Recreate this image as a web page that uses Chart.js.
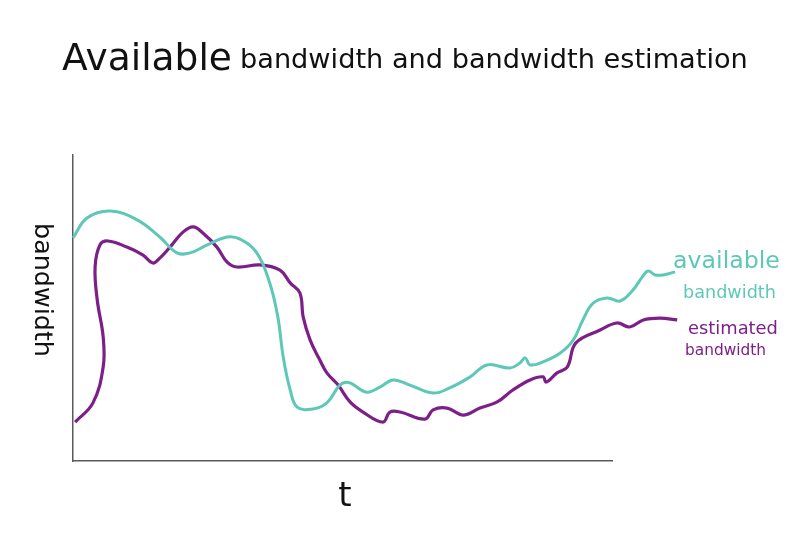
<!DOCTYPE html>
<html>
<head>
<meta charset="utf-8">
<script src="https://cdn.jsdelivr.net/npm/chart.js@4/dist/chart.umd.min.js"></script>
<style>
  html, body { margin: 0; padding: 0; background: #ffffff; }
  #wrap { width: 800px; height: 539px; }
</style>
</head>
<body>
<div id="wrap"><canvas id="c" width="800" height="539"></canvas></div>
<script>
// ---- data (arbitrary units: t 0..100 along the x axis, bandwidth 0..100 up the y axis) ----
const availableT = [0, 2.6, 6.9, 11.9, 16.1, 19.3, 21.7, 24.9, 28.6, 31.0, 34.1, 36.5, 38.0, 39.0, 40.3, 41.6, 44.5, 47.1, 49.2, 50.1, 51.4, 54.5, 57.0, 59.4, 62.5, 66.8, 69.9, 73.7, 76.8, 81.1, 82.9, 83.9, 84.8, 87.2, 90.4, 92.8, 94.6, 96.5, 99.1, 101.5, 103.9, 105.6, 106.7, 108.0, 109.5, 111.7];
const availableBw = [72.9, 79.4, 81.7, 78.8, 73.2, 68.0, 68.0, 70.6, 73.2, 72.5, 68.0, 58.2, 47.1, 34.0, 23.2, 17.6, 17.0, 19.0, 24.2, 25.5, 25.5, 22.5, 24.2, 26.5, 24.8, 22.2, 23.9, 27.5, 31.4, 30.4, 32.0, 33.7, 31.4, 32.4, 35.3, 39.5, 46.1, 51.6, 53.3, 52.3, 55.9, 60.1, 62.1, 60.8, 60.8, 61.8];

const estimatedT = [0.4, 3.7, 5.6, 5.6, 4.5, 4.1, 5.0, 6.5, 10.0, 13.0, 14.8, 16.1, 18.0, 20.4, 22.3, 24.1, 26.7, 28.6, 30.4, 34.7, 38.4, 40.3, 42.1, 42.7, 44.0, 45.8, 47.1, 49.2, 51.4, 53.8, 57.5, 58.8, 60.7, 65.3, 66.8, 69.4, 72.4, 75.5, 78.7, 81.6, 84.8, 87.2, 87.8, 89.8, 91.7, 93.3, 97.8, 100.9, 103.3, 105.8, 108.9, 112.1];
const estimatedBw = [12.7, 19.0, 30.7, 40.5, 52.6, 63.4, 70.6, 71.9, 69.9, 67.3, 64.7, 66.3, 69.9, 74.8, 76.5, 74.5, 69.9, 65.0, 63.4, 64.1, 62.4, 58.2, 54.9, 47.1, 39.5, 33.0, 28.8, 24.8, 19.3, 16.0, 12.7, 16.0, 16.0, 13.7, 16.7, 17.3, 15.0, 17.3, 19.3, 23.2, 26.5, 27.5, 25.8, 28.8, 30.7, 38.6, 42.8, 45.1, 43.8, 46.1, 46.7, 46.1];

const axisT = [0, 100];
const axisBw = [0, 100];

const titleMain = "Available";
const titleRest = "bandwidth and bandwidth estimation";
const yLabel = "bandwidth";
const xLabel = "t";
const availableLabel = ["available", "bandwidth"];
const estimatedLabel = ["estimated", "bandwidth"];

const tealColor = "#5ec8b8";
const purpleColor = "#7d1f88";
const inkColor = "#111111";

const toPoints = (xs, ys) => xs.map((x, i) => ({ x: x, y: ys[i] }));

function fitFont(ctx, text, width, family, weight) {
  ctx.font = weight + " 100px " + family;
  const w = ctx.measureText(text).width;
  return 100 * width / w;
}

const textPlugin = {
  id: 'handLabels',
  afterDraw(chart) {
    const ctx = chart.ctx;
    const fam = '"DejaVu Sans", sans-serif';
    ctx.save();
    ctx.textBaseline = 'alphabetic';
    ctx.textAlign = 'left';
    ctx.fillStyle = inkColor;
    // title
    let s = fitFont(ctx, titleMain, 170, fam, 'normal');
    ctx.font = 'normal ' + s + 'px ' + fam;
    ctx.fillText(titleMain, 62, 70);
    s = fitFont(ctx, titleRest, 508, fam, 'normal');
    ctx.font = 'normal ' + s + 'px ' + fam;
    ctx.fillText(titleRest, 240, 68);
    // x label
    ctx.textAlign = 'center';
    ctx.font = 'normal 34px ' + fam;
    ctx.fillText(xLabel, 345, 506);
    // y label, reading top to bottom
    ctx.save();
    ctx.translate(42, 290);
    ctx.rotate(Math.PI / 2);
    s = fitFont(ctx, yLabel, 134, fam, 'normal');
    ctx.font = 'normal ' + s + 'px ' + fam;
    ctx.textBaseline = 'middle';
    ctx.fillText(yLabel, 0, 0);
    ctx.restore();
    // line labels
    ctx.textAlign = 'left';
    ctx.fillStyle = tealColor;
    s = fitFont(ctx, availableLabel[0], 107, fam, 'normal');
    ctx.font = 'normal ' + s + 'px ' + fam;
    ctx.fillText(availableLabel[0], 673, 268);
    s = fitFont(ctx, availableLabel[1], 93, fam, 'normal');
    ctx.font = 'normal ' + s + 'px ' + fam;
    ctx.fillText(availableLabel[1], 683, 298);
    ctx.fillStyle = purpleColor;
    s = fitFont(ctx, estimatedLabel[0], 90, fam, 'normal');
    ctx.font = 'normal ' + s + 'px ' + fam;
    ctx.fillText(estimatedLabel[0], 688, 334);
    s = fitFont(ctx, estimatedLabel[1], 81, fam, 'normal');
    ctx.font = 'normal ' + s + 'px ' + fam;
    ctx.fillText(estimatedLabel[1], 685, 355);
    ctx.restore();
  }
};

new Chart(document.getElementById('c'), {
  type: 'scatter',
  data: {
    datasets: [
      {
        label: 'available bandwidth',
        data: toPoints(availableT, availableBw),
        showLine: true,
        borderColor: tealColor,
        backgroundColor: tealColor,
        borderWidth: 3,
        pointRadius: 0,
        tension: 0.4,
        clip: false
      },
      {
        label: 'estimated bandwidth',
        data: toPoints(estimatedT, estimatedBw),
        showLine: true,
        borderColor: purpleColor,
        backgroundColor: purpleColor,
        borderWidth: 3.2,
        pointRadius: 0,
        tension: 0.4,
        clip: false
      }
    ]
  },
  options: {
    responsive: false,
    animation: false,
    layout: { padding: { left: 73, right: 188, top: 155, bottom: 78 } },
    plugins: {
      legend: { display: false },
      title: { display: false },
      tooltip: { enabled: false }
    },
    scales: {
      x: {
        type: 'linear',
        bounds: 'data',
        // axis spans t = 0..100; lines continue past its end toward their labels
        afterDataLimits: (scale) => { scale.min = axisT[0]; scale.max = axisT[1]; },
        ticks: { display: false },
        grid: { display: false, drawTicks: false },
        border: { display: true, color: '#5a5a5a', width: 1.5 }
      },
      y: {
        type: 'linear', min: axisBw[0], max: axisBw[1],
        ticks: { display: false },
        grid: { display: false, drawTicks: false },
        border: { display: true, color: '#5a5a5a', width: 1.5 }
      }
    }
  },
  plugins: [textPlugin]
});
</script>
</body>
</html>
